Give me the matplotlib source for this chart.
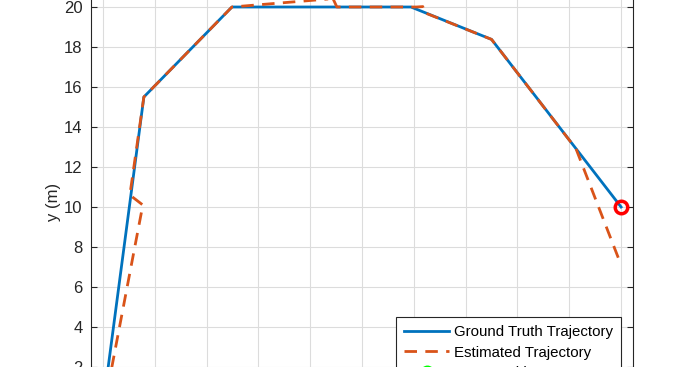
import matplotlib.pyplot as plt

plt.rcParams['font.family'] = ['Liberation Sans', 'DejaVu Sans']

# ground truth trajectory
gt_x = [0.0, 1.58, 4.98, 11.89, 15.0, 20.0]
gt_y = [0.0, 15.5, 20.0, 20.0, 18.38, 10.0]

# estimated trajectory
est_x = [0.05, 1.54, 1.04, 1.58, 4.98, 8.88, 9.03, 12.1, 12.35, 12.35, 15.0, 18.26, 20.0]
est_y = [0.0, 10.1, 10.6, 15.5, 20.0, 20.42, 20.0, 20.0, 20.02, 19.75, 18.38, 12.91, 7.1]

start = (0.0, 0.0)
end = (20.0, 10.0)

W, H = 700, 367
fig = plt.figure(figsize=(7, 3.67), dpi=100)
# axes runs past the visible area (picture is a crop)
ylo, yhi = -0.5, 21
ppu = 20.0
top_px = 7 - (yhi - 20) * ppu
bot_px = 7 + (20 - ylo) * ppu
ax = fig.add_axes([91 / W, 1 - bot_px / H, (633 - 91) / W, (bot_px - top_px) / H])

ax.plot(gt_x, gt_y, color='#0072BD', lw=2, label='Ground Truth Trajectory')
ax.plot(est_x, est_y, color='#D95319', lw=2, dashes=(4.5, 3), label='Estimated Trajectory')
ax.plot(*start, 'o', color='#00FF00', ms=9, label='Start Position')
ax.plot(*end, 'o', mfc='none', mec='#FF0000', mew=2.5, ms=9, label='End Position')

ax.set_xlim(-0.46, 20.46)
ax.set_ylim(ylo, yhi)
ax.set_xticks(range(0, 21, 2))
ax.set_yticks(range(0, 21, 2))
ax.grid(True, color='#dcdcdc', lw=0.8)
ax.set_axisbelow(True)
ax.tick_params(direction='in', length=4, width=0.8, colors='#262626',
               labelsize=12, right=True, top=True, pad=6)
ax.tick_params(axis='x', labelbottom=False)
for s in ax.spines.values():
    s.set_color('#262626')
    s.set_linewidth(0.8)
ax.set_ylabel('y (m)', fontsize=12, color='#262626', labelpad=2)

leg = ax.legend(loc='upper right', bbox_to_anchor=(621 / W, 1 - 317 / H),
                bbox_transform=fig.transFigure, fontsize=10.8, frameon=True,
                fancybox=False, edgecolor='#262626', framealpha=1,
                borderpad=0.55, labelspacing=0.42, handlelength=3.0, handletextpad=0.3,
                borderaxespad=0)
leg.get_frame().set_linewidth(0.8)

fig.savefig('out.png', dpi=100)
